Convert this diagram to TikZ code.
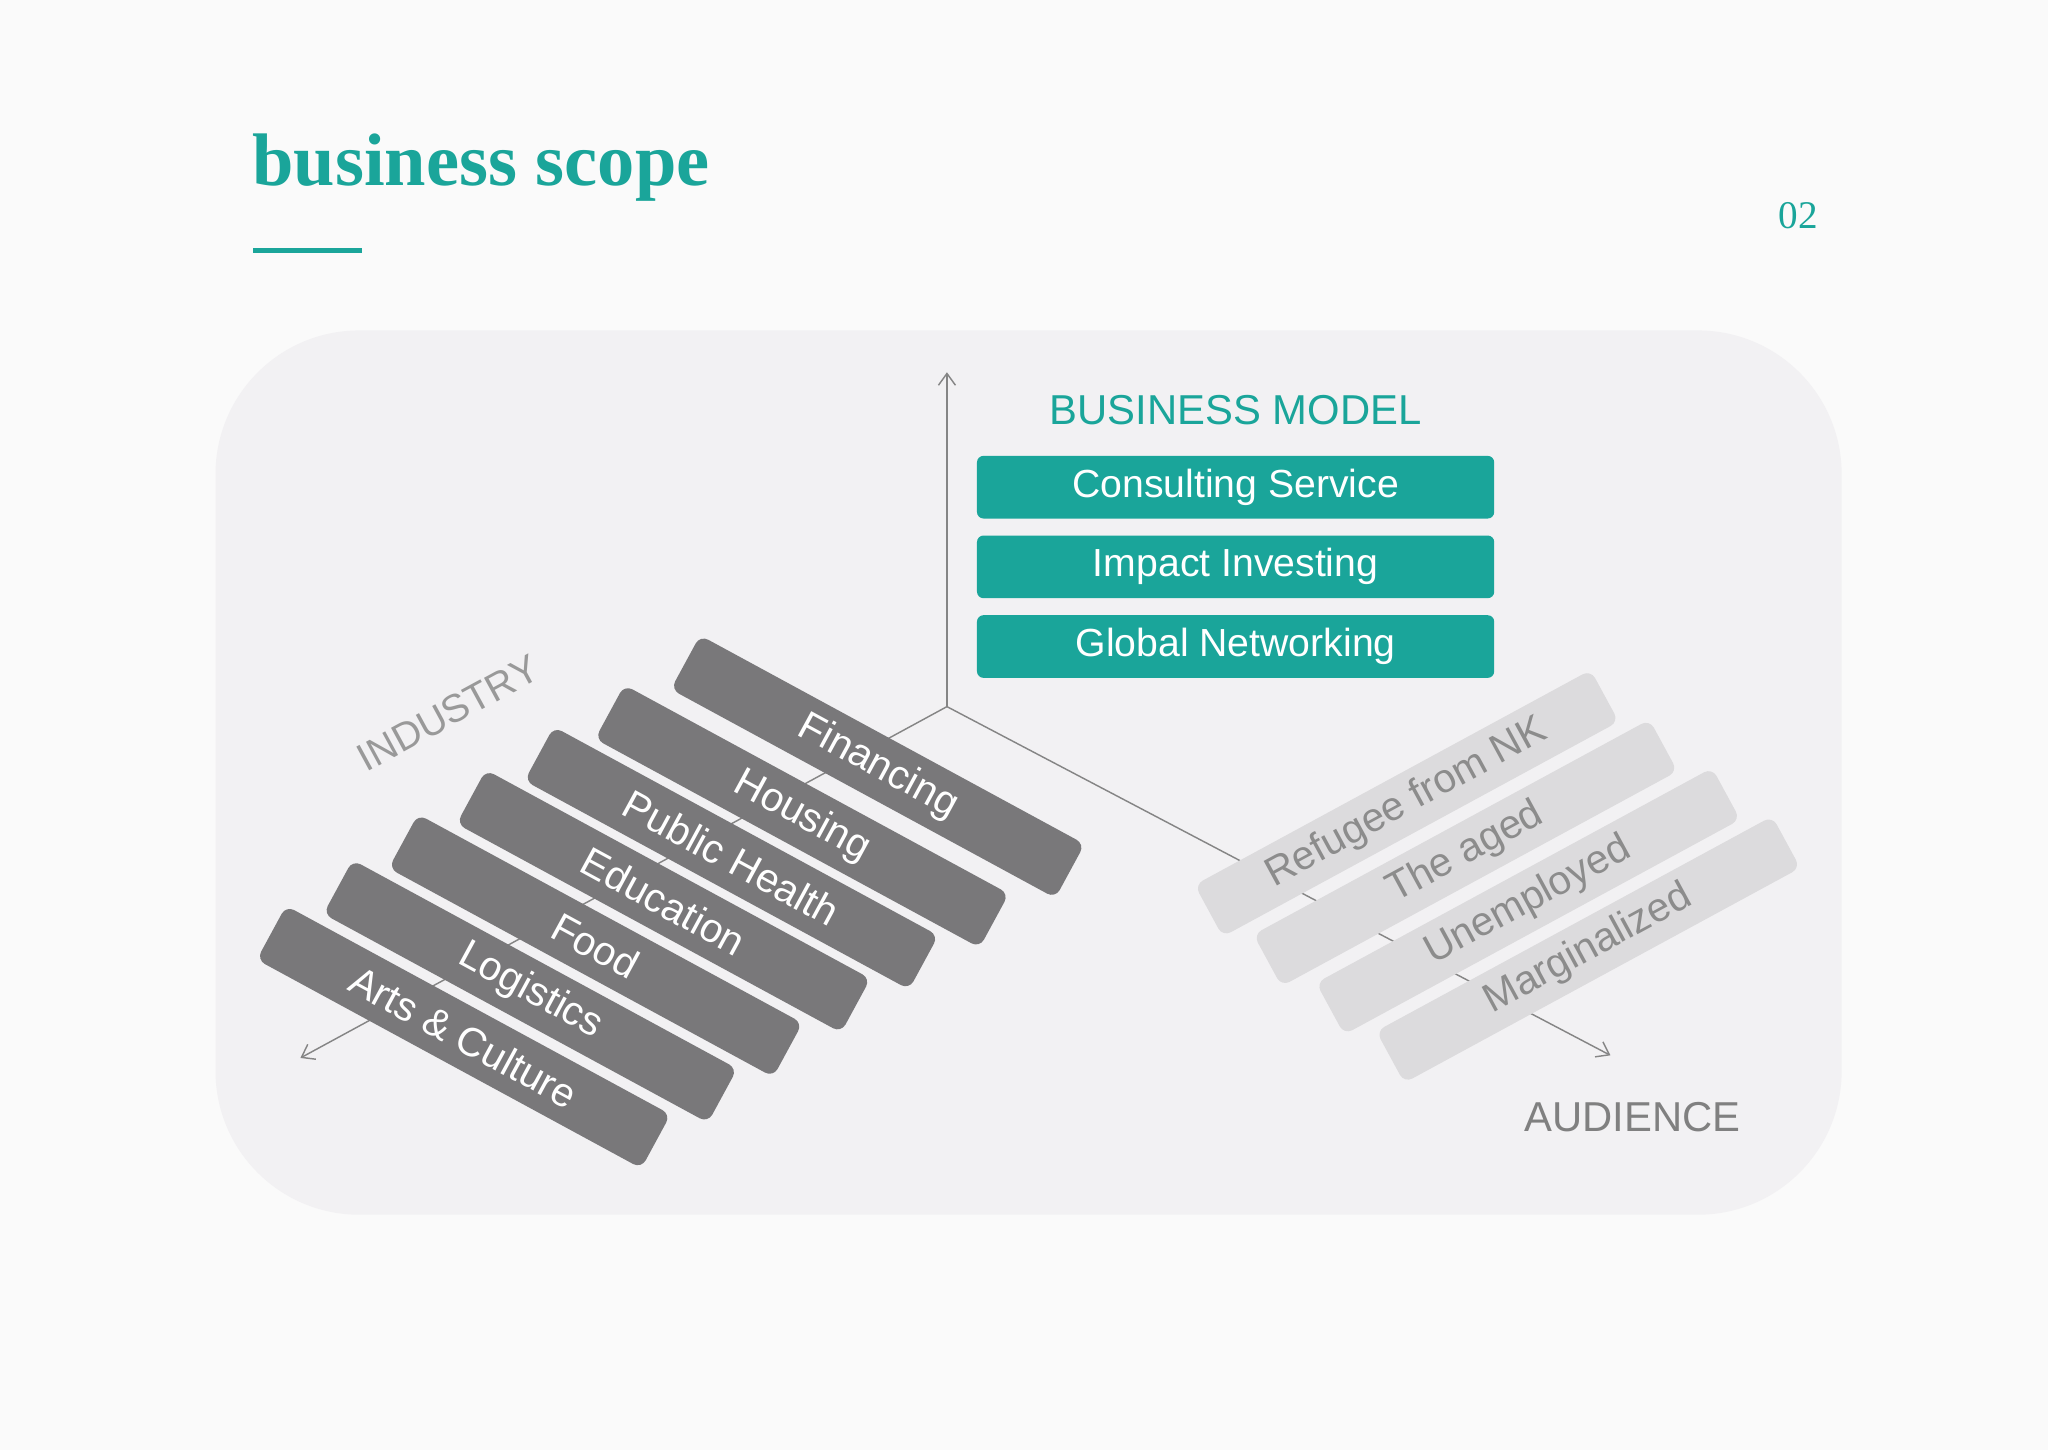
\documentclass[tikz,border=0pt]{standalone}
\usepackage{fontspec}
\setmainfont{Liberation Sans}
\newfontfamily\titlefont{Liberation Serif}
\usetikzlibrary{arrows.meta}
\definecolor{teal1}{HTML}{1AA59A}
\definecolor{bgpanel}{HTML}{F2F1F3}
\definecolor{indbar}{HTML}{79787A}
\definecolor{audbar}{HTML}{DCDBDD}
\definecolor{axisc}{HTML}{858585}
\begin{document}
\begin{tikzpicture}[x=1pt,y=-1pt,
  ind/.style={rectangle,rounded corners=7pt,fill=indbar,minimum width=335pt,minimum height=47pt,rotate=-28.5,text=white,font=\fontsize{31}{31}\selectfont,inner sep=0},
  aud/.style={rectangle,rounded corners=7pt,fill=audbar,minimum width=345pt,minimum height=45pt,rotate=28.5,text=black!45,font=\fontsize{31}{31}\selectfont,inner sep=0},
  bm/.style={rectangle,rounded corners=5pt,fill=teal1,minimum width=396pt,minimum height=48pt,text=white,font=\fontsize{30}{30}\selectfont,inner sep=0},
  ax/.style={draw=axisc,line width=1.1pt,-{Straight Barb[length=9pt,width=13pt]}}]
\useasboundingbox (0,0) rectangle (1568,1110);
\fill[white!98!black] (0,0) rectangle (1568,1110);
\fill[bgpanel] (165,253) [rounded corners=110pt] rectangle (1410,930);
\node[font=\titlefont\bfseries\fontsize{57}{57}\selectfont,text=teal1,anchor=base west,inner sep=0] (title) at (193,142) {business scope};
\draw[teal1,line width=4pt] (194,192) -- (277,192);
\node[font=\titlefont\fontsize{30}{30}\selectfont,text=teal1] (pg) at (1377,165) {02};
\coordinate (o) at (725,541);
\coordinate (up) at (725,285);
\coordinate (lt) at (230,810);
\coordinate (rt) at (1233,808);
\draw[ax] (o) -- (up);
\draw[ax] (o) -- (lt);
\draw[ax] (o) -- (rt);
\node[text=teal1,font=\fontsize{32}{32}\selectfont] (bmt) at (946,314) {BUSINESS MODEL};
\node[bm] (b1) at (946,373) {\raisebox{-4pt}{Consulting Service}};
\node[bm] (b2) at (946,434) {\raisebox{-4pt}{Impact Investing}};
\node[bm] (b3) at (946,495) {\raisebox{-4pt}{Global Networking}};
\node[ind] (i1) at (672,587) {Financing};
\node[ind] (i2) at (614,625) {Housing};
\node[ind] (i3) at (560,657) {Public Health};
\node[ind] (i4) at (508,690) {Education};
\node[ind] (i5) at (456,724) {Food};
\node[ind] (i6) at (406,759) {Logistics};
\node[ind] (i7) at (355,794) {Arts \& Culture};
\node[aud] (a1) at (1077,615) {Refugee from NK};
\node[aud] (a2) at (1122,653) {The aged};
\node[aud] (a3) at (1170,690) {Unemployed};
\node[aud] (a4) at (1216,727) {Marginalized};
\node[rotate=28.5,text=black!40,font=\fontsize{30}{30}\selectfont] (indl) at (343,546) {INDUSTRY};
\node[text=black!50,font=\fontsize{32}{32}\selectfont] (audl) at (1250,855) {AUDIENCE};
\end{tikzpicture}
\end{document}
